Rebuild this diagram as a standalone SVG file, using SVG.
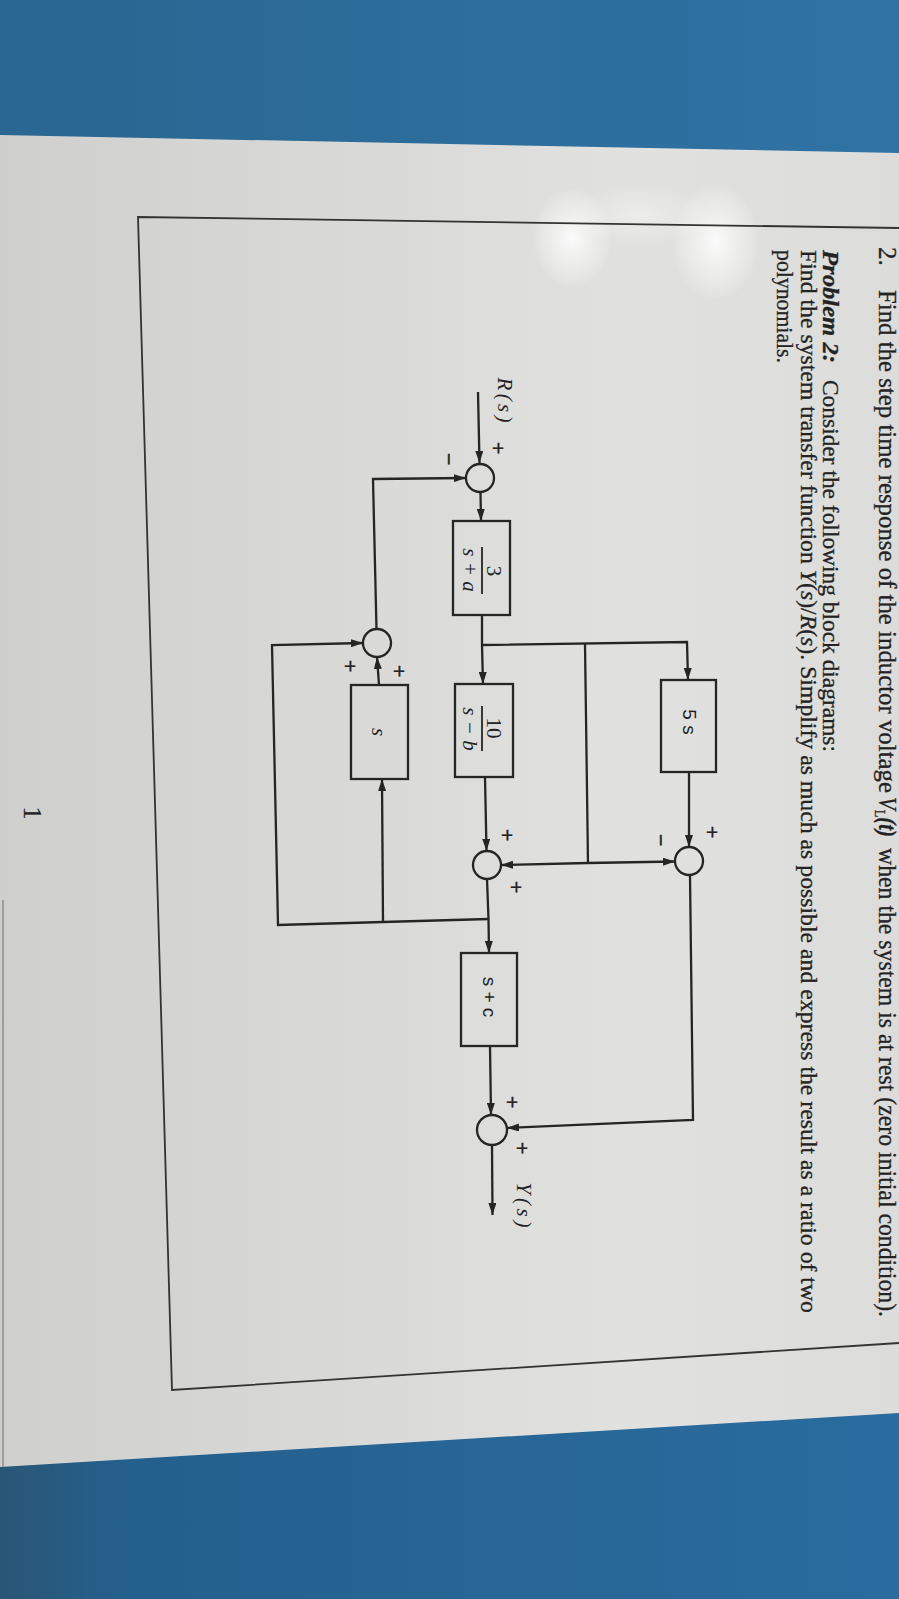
<svg xmlns="http://www.w3.org/2000/svg" width="899" height="1599" viewBox="0 0 899 1599">
<style>
.ln{fill:none;stroke:#252525;stroke-width:2.3;stroke-linejoin:miter}
.blk{fill:none;stroke:#252525;stroke-width:2.3}
.sum{fill:none;stroke:#252525;stroke-width:2.3}
.bar{stroke:#252525;stroke-width:1.8}
.sg{font-family:"Liberation Sans",Arial,sans-serif;font-size:21px;fill:#222;stroke:#222;stroke-width:0.4}
.lb{font-family:"Liberation Serif","Times New Roman",serif;font-size:21px;fill:#222}
.ls{font-family:"Liberation Sans",Arial,sans-serif;font-size:19px;fill:#222}
.it{font-style:italic}
.tx{font-family:"Liberation Serif","Times New Roman",serif;fill:#232323;stroke:#232323;stroke-width:0.3}
</style>
<defs>
<marker id="ah" viewBox="0 0 12 8" refX="12" refY="4" markerWidth="12" markerHeight="8" markerUnits="userSpaceOnUse" orient="auto"><path d="M0,0 L12,4 L0,8 z" fill="#252525"/></marker>
<linearGradient id="blueTop" x1="0" y1="0" x2="1" y2="0"><stop offset="0" stop-color="#2a6792"/><stop offset="1" stop-color="#2f73a5"/></linearGradient>
<linearGradient id="blueBot" x1="0" y1="0" x2="1" y2="0"><stop offset="0" stop-color="#2a5676"/><stop offset="0.15" stop-color="#24608e"/><stop offset="1" stop-color="#2a6c9f"/></linearGradient>
<linearGradient id="paper" x1="0" y1="0" x2="1" y2="0"><stop offset="0" stop-color="#cfd0ce"/><stop offset="0.7" stop-color="#e1e1df"/><stop offset="1" stop-color="#dcdcda"/></linearGradient>
<radialGradient id="glare"><stop offset="0" stop-color="#ffffff" stop-opacity="0.9"/><stop offset="0.6" stop-color="#f6f6f6" stop-opacity="0.5"/><stop offset="1" stop-color="#ffffff" stop-opacity="0"/></radialGradient>
</defs>

<!-- background -->
<rect x="0" y="0" width="899" height="800" fill="url(#blueTop)"/>
<rect x="0" y="800" width="899" height="799" fill="url(#blueBot)"/>
<polygon points="0,135 899,153 899,1413 0,1467" fill="url(#paper)"/>
<ellipse cx="572" cy="238" rx="40" ry="50" fill="url(#glare)"/>
<ellipse cx="716" cy="242" rx="44" ry="58" fill="url(#glare)"/>
<ellipse cx="640" cy="215" rx="70" ry="30" fill="url(#glare)" opacity="0.45"/>
<line x1="3" y1="900" x2="3" y2="1467" stroke="#8c8c8c" stroke-width="1.5"/>
<polyline points="899,228 138,217 172,1390 899,1343" fill="none" stroke="#333" stroke-width="1.8"/>

<!-- header text -->
<g id="text">
<text class="tx" font-size="25" transform="translate(879,247) rotate(90)">2.</text>
<text class="tx" font-size="25" transform="translate(879,290) rotate(90)" textLength="503" lengthAdjust="spacingAndGlyphs">Find the step time response of the inductor voltage</text>
<text class="tx" font-size="25" transform="translate(879,797) rotate(90)" textLength="40" lengthAdjust="spacingAndGlyphs"><tspan font-style="italic">V</tspan><tspan font-size="15" dy="4">L</tspan><tspan dy="-4" font-weight="bold" font-style="italic">(t)</tspan></text>
<text class="tx" font-size="25" transform="translate(879,848) rotate(90)" textLength="469" lengthAdjust="spacingAndGlyphs">when the system is at rest (zero initial condition).</text>
<text class="tx" font-size="23" font-weight="bold" font-style="italic" transform="translate(823,250) rotate(90)" textLength="113" lengthAdjust="spacingAndGlyphs">Problem 2:</text>
<text class="tx" font-size="23" transform="translate(823,380) rotate(90)" textLength="372" lengthAdjust="spacingAndGlyphs">Consider the following block diagrams:</text>
<text class="tx" font-size="23" transform="translate(801,250) rotate(90)" textLength="1063" lengthAdjust="spacingAndGlyphs">Find the system transfer function <tspan font-style="italic">Y</tspan>(<tspan font-style="italic">s</tspan>)/<tspan font-style="italic">R</tspan>(<tspan font-style="italic">s</tspan>). Simplify as much as possible and express the result as a ratio of two</text>
<text class="tx" font-size="23" transform="translate(777,250) rotate(90)" textLength="113" lengthAdjust="spacingAndGlyphs">polynomials.</text>
<text class="tx" font-size="26" fill="#555" stroke="none" transform="translate(24,813) rotate(90)" text-anchor="middle">1</text>
</g>

<!-- connectors -->
<g id="connectors">
<path class="ln" d="M478,392 L479.5,463" marker-end="url(#ah)"/>
<path class="ln" d="M480.5,492 L481,521" marker-end="url(#ah)"/>
<path class="ln" d="M482,615 L482,645 L483,684" marker-end="url(#ah)"/>
<path class="ln" d="M482,645 L687,642 L688,680" marker-end="url(#ah)"/>
<path class="ln" d="M585,644 L588,863"/>
<path class="ln" d="M588,863 L675,861.5" marker-end="url(#ah)"/>
<path class="ln" d="M588,863 L501,865" marker-end="url(#ah)"/>
<path class="ln" d="M485,777 L486.5,851" marker-end="url(#ah)"/>
<path class="ln" d="M689,772 L689,847" marker-end="url(#ah)"/>
<path class="ln" d="M487,879 L488.5,919 L489,953" marker-end="url(#ah)"/>
<path class="ln" d="M488.5,919 L278,925 L272,645 L363,643" marker-end="url(#ah)"/>
<path class="ln" d="M383,922 L382,779" marker-end="url(#ah)"/>
<path class="ln" d="M379,685 L377,657" marker-end="url(#ah)"/>
<path class="ln" d="M376.5,629 L373,479 L466,478" marker-end="url(#ah)"/>
<path class="ln" d="M490,1046 L491,1115" marker-end="url(#ah)"/>
<path class="ln" d="M690,875 L693,1120 L507,1128" marker-end="url(#ah)"/>
<path class="ln" d="M492,1145 L492.5,1215" marker-end="url(#ah)"/>
</g>

<!-- summing junctions -->
<g id="sum1">
<circle class="sum" cx="480" cy="478" r="14"/>
<text class="sg" transform="translate(498,448) rotate(90)" text-anchor="middle" dominant-baseline="central">+</text>
<text class="sg" transform="translate(449,459) rotate(90)" text-anchor="middle" dominant-baseline="central">−</text>
<text class="lb it" transform="translate(505,400) rotate(90)" text-anchor="middle" dominant-baseline="central" font-size="23" textLength="45">R(s)</text>
</g>
<g id="sum4">
<circle class="sum" cx="377" cy="643" r="14"/>
<text class="sg" transform="translate(350,666) rotate(90)" text-anchor="middle" dominant-baseline="central">+</text>
<text class="sg" transform="translate(399,671) rotate(90)" text-anchor="middle" dominant-baseline="central">+</text>
</g>
<g id="sum2">
<circle class="sum" cx="487" cy="865" r="14"/>
<text class="sg" transform="translate(507,835) rotate(90)" text-anchor="middle" dominant-baseline="central">+</text>
<text class="sg" transform="translate(516,887) rotate(90)" text-anchor="middle" dominant-baseline="central">+</text>
</g>
<g id="sum3">
<circle class="sum" cx="689" cy="861" r="14"/>
<text class="sg" transform="translate(661,840) rotate(90)" text-anchor="middle" dominant-baseline="central">−</text>
<text class="sg" transform="translate(712,832) rotate(90)" text-anchor="middle" dominant-baseline="central">+</text>
</g>
<g id="sum5">
<circle class="sum" cx="492" cy="1130" r="15"/>
<text class="sg" transform="translate(512,1102) rotate(90)" text-anchor="middle" dominant-baseline="central">+</text>
<text class="sg" transform="translate(522,1148) rotate(90)" text-anchor="middle" dominant-baseline="central">+</text>
<text class="lb it" transform="translate(524,1205) rotate(90)" text-anchor="middle" dominant-baseline="central" font-size="23" textLength="45">Y(s)</text>
</g>

<!-- blocks -->
<g id="block_3_sa">
<rect class="blk" x="453" y="521" width="57" height="94"/>
<line class="bar" x1="482" y1="547" x2="482" y2="594"/>
<text class="lb" transform="translate(487,571) rotate(90)" text-anchor="middle">3</text>
<text class="lb it" transform="translate(463,570) rotate(90)" text-anchor="middle">s + a</text>
</g>
<g id="block_10_sb">
<rect class="blk" x="455" y="684" width="58" height="93"/>
<line class="bar" x1="482" y1="706" x2="482" y2="751"/>
<text class="lb" transform="translate(487,728) rotate(90)" text-anchor="middle">10</text>
<text class="lb it" transform="translate(463,729) rotate(90)" text-anchor="middle">s − b</text>
</g>
<g id="block_5s">
<rect class="blk" x="661" y="680" width="55" height="92"/>
<text class="ls" transform="translate(689,722) rotate(90)" text-anchor="middle" dominant-baseline="central">5 s</text>
</g>
<g id="block_s">
<rect class="blk" x="351" y="685" width="57" height="94"/>
<text class="lb it" transform="translate(379,732) rotate(90)" text-anchor="middle" dominant-baseline="central">s</text>
</g>
<g id="block_sc">
<rect class="blk" x="461" y="953" width="56" height="93"/>
<text class="ls" transform="translate(489,997) rotate(90)" text-anchor="middle" dominant-baseline="central">s + c</text>
</g>
</svg>
